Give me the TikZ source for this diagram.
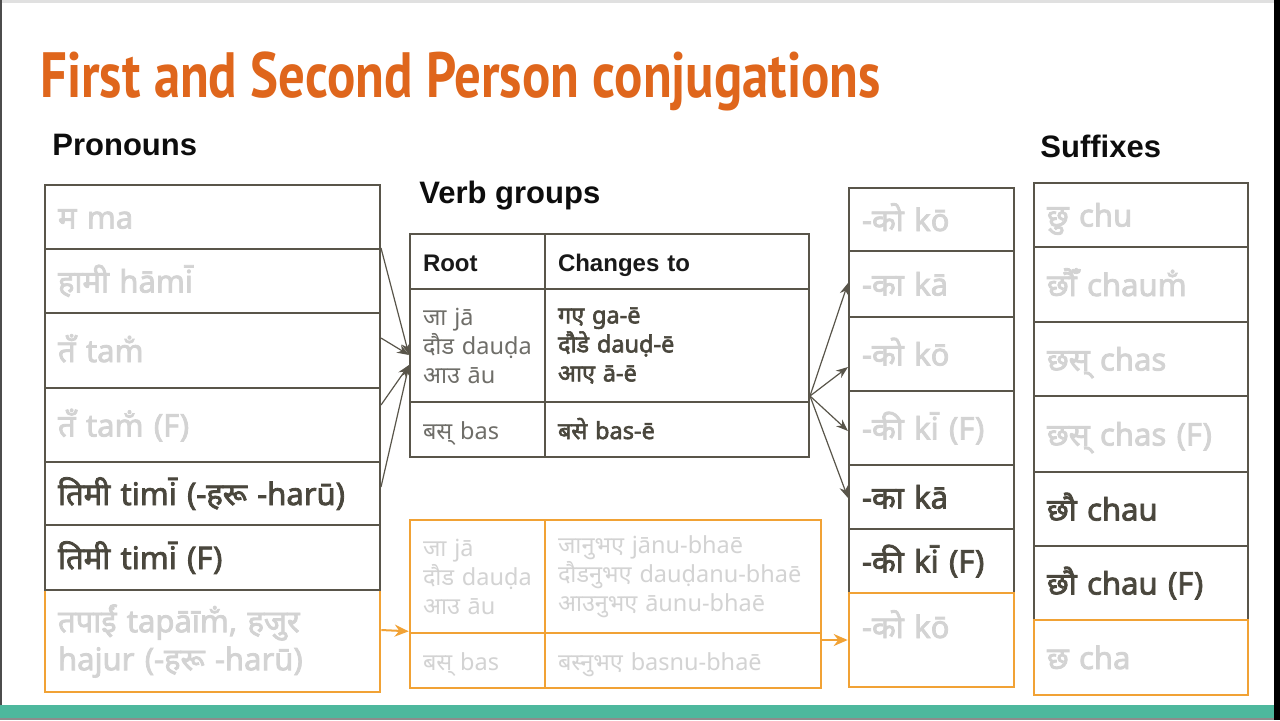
\documentclass[tikz,border=0pt]{standalone}
\usepackage{fontspec}
\usetikzlibrary{arrows.meta}
\setmainfont{Liberation Sans}
\newfontfamily\titlefont[FakeStretch=0.825]{PT Sans}
\newfontfamily\devfont[Script=Devanagari, BoldFont={Noto Sans},
    BoldFeatures={FakeBold=2.5}]{Noto Sans}
\definecolor{ink}{HTML}{59554A}
\definecolor{inktext}{HTML}{4A473D}
\definecolor{faded}{HTML}{D3D3D3}
\definecolor{midgrey}{HTML}{6F6E69}
\definecolor{accent}{HTML}{F1A235}
\definecolor{titleorange}{HTML}{DF661C}
\definecolor{barteal}{HTML}{4DB89D}
\begin{document}
\begin{tikzpicture}[x=0.5pt, y=-0.5pt,
        cell/.style={draw=ink, line width=1pt, inner xsep=6.5pt, inner ysep=0pt,
        align=left, text=faded,
        font=\devfont\bfseries\fontsize{15.5}{19}\selectfont},
        one/.style={text height=15.5pt, text depth=4pt},
        active/.style={text=inktext},
        hot/.style={draw=accent, line width=1.3pt},
        tcell/.style={draw=ink, line width=1pt, inner xsep=6.5pt, inner ysep=0pt,
        align=left, text=midgrey,
        font=\devfont\fontsize{11.75}{14.5}\selectfont},
        tone/.style={text height=12.5pt, text depth=3pt},
        thead/.style={text=black!90, font=\normalfont\bfseries\fontsize{12}{14}\selectfont},
        head/.style={anchor=base west, inner sep=0pt, text=black!95,
        font=\bfseries\fontsize{15.5}{18}\selectfont},
        link/.style={draw=ink, line width=0.6pt, -{Stealth[length=6pt, width=4.5pt]}},
        hotlink/.style={draw=accent, line width=1pt, -{Stealth[length=7pt, width=6pt]}},
        ]

        % slide
        \fill[white] (0,0) rectangle (1280,720);
        \fill[black!12] (0,0) rectangle (1280,3);
        \fill[black!70] (0,0) rectangle (2,720);
        \fill[barteal] (0,705) rectangle (1280,718);
        \fill[black!45] (0,718) rectangle (1280,720);
        \fill[black] (1274,0) rectangle (1280,720);

        \node (title) [anchor=base west, inner sep=0pt, text=titleorange,
            font=\titlefont\bfseries\fontsize{32}{36}\selectfont]
            at (40,97) {First and Second Person conjugations};

        \node (hp) [head] at (52,155) {Pronouns};
        \node (hv) [head] at (419,203) {Verb groups};
        \node (hs) [head] at (1040,157) {Suffixes};

        % pronouns
        \node (p7) [cell, hot, text width=154.5pt, minimum height=51pt] at (212.5,641)
            {तपाईं tapāīm̐, हजुर\\hajur (-हरू -harū)};
        \node (p1) [cell, one, text width=154.5pt, minimum height=32pt] at (212.5,217) {म ma};
        \node (p2) [cell, one, text width=154.5pt, minimum height=32pt] at (212.5,281) {हामी hāmī};
        \node (p3) [cell, one, text width=154.5pt, minimum height=37.5pt] at (212.5,350.5) {तँ tam̐};
        \node (p4) [cell, one, text width=154.5pt, minimum height=37pt] at (212.5,425) {तँ tam̐ (F)};
        \node (p5) [cell, one, active, text width=154.5pt, minimum height=31.5pt] at (212.5,493.5)
            {तिमी timī (-हरू -harū)};
        \node (p6) [cell, one, active, text width=154.5pt, minimum height=32.5pt] at (212.5,557.5)
            {तिमी timī (F)};

        % verb groups
        \node (r1) [tcell, tone, thead, text width=54.5pt, minimum height=27.5pt] at (477.5,261.5) {Root};
        \node (c1) [tcell, tone, thead, text width=119pt, minimum height=27.5pt] at (677,261.5) {Changes to};
        \node (r2) [tcell, text width=54.5pt, minimum height=56.5pt] at (477.5,345.5)
            {जा jā\\दौड dauḍa\\आउ āu};
        \node (c2) [tcell, text=inktext, text width=119pt, minimum height=56.5pt,
            font=\devfont\bfseries\fontsize{11.75}{14.5}\selectfont] at (677,345.5)
            {गए ga-ē\\दौडे dauḍ-ē\\आए ā-ē};
        \node (r3) [tcell, tone, text width=54.5pt, minimum height=27.5pt] at (477.5,429.5) {बस् bas};
        \node (c3) [tcell, tone, text=inktext, text width=119pt, minimum height=27.5pt,
            font=\devfont\bfseries\fontsize{11.75}{14.5}\selectfont] at (677,429.5) {बसे bas-ē};

        \node (b1) [tcell, hot, text=faded, text width=54.5pt, minimum height=56.5pt] at (477.5,576.5)
            {जा jā\\दौड dauḍa\\आउ āu};
        \node (b2) [tcell, hot, text=faded, text width=125pt, minimum height=56.5pt] at (683,576.5)
            {जानुभए jānu-bhaē\\दौडनुभए dauḍanu-bhaē\\आउनुभए āunu-bhaē};
        \node (b3) [tcell, tone, hot, text=faded, text width=54.5pt, minimum height=27.5pt] at (477.5,660.5) {बस् bas};
        \node (b4) [tcell, tone, hot, text=faded, text width=125pt, minimum height=27.5pt] at (683,660.5)
            {बस्नुभए basnu-bhaē};

        % possessive endings
        \node (k1) [cell, one, text width=69.5pt, minimum height=31.5pt] at (931.5,219.5) {-को kō};
        \node (k2) [cell, one, text width=69.5pt, minimum height=33pt] at (931.5,284) {-का kā};
        \node (k3) [cell, one, text width=69.5pt, minimum height=37pt] at (931.5,354) {-को kō};
        \node (k4) [cell, one, text width=69.5pt, minimum height=37pt] at (931.5,428) {-की kī (F)};
        \node (k5) [cell, one, active, text width=69.5pt, minimum height=32pt] at (931.5,497) {-का kā};
        \node (k6) [cell, one, active, text width=69.5pt, minimum height=32pt] at (931.5,561) {-की kī (F)};
        \node (k7) [cell, hot, text width=69.5pt, minimum height=47pt,
            text height=15.5pt, text depth=17.5pt] at (931.5,640) {-को kō};

        % suffixes
        \node (s1) [cell, one, text width=94pt, minimum height=32pt] at (1141,215) {छु chu};
        \node (s2) [cell, one, text width=94pt, minimum height=37.5pt] at (1141,284.5) {छौँ chaum̐};
        \node (s3) [cell, one, text width=94pt, minimum height=37pt] at (1141,359) {छस् chas};
        \node (s4) [cell, one, text width=94pt, minimum height=38pt] at (1141,434) {छस् chas (F)};
        \node (s5) [cell, one, active, text width=94pt, minimum height=37pt] at (1141,509) {छौ chau};
        \node (s6) [cell, one, active, text width=94pt, minimum height=37pt] at (1141,583) {छौ chau (F)};
        \node (s7) [cell, one, hot, text width=94pt, minimum height=37.5pt] at (1141,657.5) {छ cha};

        \draw[link] (p2.north east) -- ([yshift=-4.75pt]r2.west);
        \draw[link] ([yshift=6.25pt]p3.east) -- ([yshift=-4.75pt]r2.west);
        \draw[link] ([yshift=10pt]p4.east) -- ([yshift=-9.75pt]r2.west);
        \draw[link] ([yshift=3.25pt]p5.east) -- ([yshift=-9.75pt]r2.west);

        \draw[link] ([yshift=3.5pt]c2.south east) -- ([yshift=0.5pt]k2.west);
        \draw[link] ([yshift=3.5pt]c2.south east) -- ([yshift=-6.5pt]k3.west);
        \draw[link] ([yshift=3.5pt]c2.south east) -- ([yshift=-1.5pt]k4.west);
        \draw[link] ([yshift=3.5pt]c2.south east) -- ([yshift=-0.5pt]k5.west);

        \draw[hotlink] ([yshift=5.5pt]p7.east) -- ([yshift=1.5pt]b1.south west);
        \draw[hotlink] ([yshift=10.25pt]b4.east) -- (k7.west);
\end{tikzpicture}
\end{document}
